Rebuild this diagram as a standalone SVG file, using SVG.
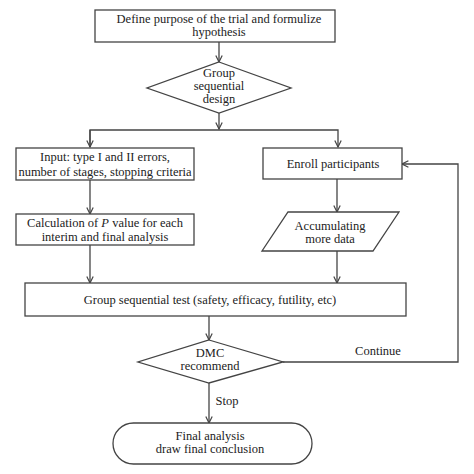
<svg xmlns="http://www.w3.org/2000/svg" width="474" height="474" viewBox="0 0 474 474">
<defs>
<style>
.s{fill:#fff;stroke:#444;stroke-width:1.3}
.c{fill:none;stroke:#444;stroke-width:1.3}
text{font-family:"Liberation Serif","Times New Roman",serif;font-size:12.5px;fill:#222;text-anchor:middle}
</style>
<marker id="a" viewBox="0 0 10 10" refX="9" refY="5" markerWidth="8" markerHeight="8" markerUnits="userSpaceOnUse" orient="auto">
<path d="M1,1 L9,5 L1,9" fill="none" stroke="#444" stroke-width="1.5"/>
</marker>
</defs>
<rect width="474" height="474" fill="#fff"/>
<g id="connectors">
<line class="c" x1="219" y1="42" x2="219" y2="62" marker-end="url(#a)"/>
<line class="c" x1="219" y1="113" x2="219" y2="129" marker-end="url(#a)"/>
<polyline class="c" points="90,147 90,130 338,130 338,147" marker-end="url(#a)"/>
<line class="c" x1="90" y1="130" x2="90" y2="147" marker-end="url(#a)"/>
<line class="c" x1="90" y1="180" x2="90" y2="214" marker-end="url(#a)"/>
<line class="c" x1="337" y1="179" x2="337" y2="212" marker-end="url(#a)"/>
<line class="c" x1="90" y1="245" x2="90" y2="283" marker-end="url(#a)"/>
<line class="c" x1="337" y1="251" x2="337" y2="283" marker-end="url(#a)"/>
<line class="c" x1="209" y1="316" x2="209" y2="340" marker-end="url(#a)"/>
<polyline class="c" points="283,362 458,362 458,164 402,164" marker-end="url(#a)"/>
<line class="c" x1="209" y1="383" x2="209" y2="423" marker-end="url(#a)"/>
<text x="378" y="355">Continue</text>
<text x="227" y="405">Stop</text>
</g>
<g id="n1">
<rect class="s" x="95" y="10" width="240" height="32"/>
<text x="219" y="23">Define purpose of the trial and formulize</text>
<text x="219" y="36">hypothesis</text>
</g>
<g id="n2">
<polygon class="s" points="219,62 291,88 219,113 147,88"/>
<text x="219" y="77">Group</text>
<text x="219" y="90">sequential</text>
<text x="219" y="103">design</text>
</g>
<g id="n3">
<rect class="s" x="16" y="148" width="178" height="32"/>
<text x="105" y="161">Input: type I and II errors,</text>
<text x="105" y="176">number of stages, stopping criteria</text>
</g>
<g id="n4">
<rect class="s" x="263" y="148" width="139" height="31"/>
<text x="333" y="168">Enroll participants</text>
</g>
<g id="n5">
<rect class="s" x="16" y="214" width="178" height="31"/>
<text x="105" y="227">Calculation of <tspan font-style="italic">P</tspan> value for each</text>
<text x="105" y="241">interim and final analysis</text>
</g>
<g id="n6">
<polygon class="s" points="288,212 399,212 373,251 262,251"/>
<text x="330" y="230">Accumulating</text>
<text x="330" y="243">more data</text>
</g>
<g id="n7">
<rect class="s" x="25" y="283" width="381" height="33"/>
<text x="210" y="304">Group sequential test (safety, efficacy, futility, etc)</text>
</g>
<g id="n8">
<polygon class="s" points="209,340 283,362 209,383 138,362"/>
<text x="210" y="357">DMC</text>
<text x="210" y="370">recommend</text>
</g>
<g id="n9">
<rect class="s" x="113" y="423" width="199" height="41" rx="20.5"/>
<text x="210" y="440">Final analysis</text>
<text x="210" y="453">draw final conclusion</text>
</g>
</svg>
